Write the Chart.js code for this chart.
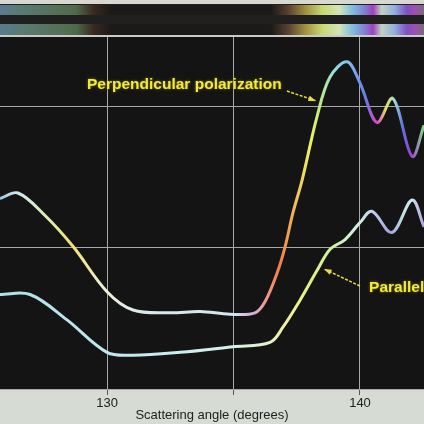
<!DOCTYPE html>
<html>
<head>
<meta charset="utf-8">
<script src="https://cdn.jsdelivr.net/npm/chart.js@4/dist/chart.umd.min.js"></script>
<style>
  html, body { margin: 0; padding: 0; background: #d6dbd4; }
  #wrap { width: 424px; height: 424px; }
</style>
</head>
<body>
<div id="wrap"><canvas id="grafico" width="424" height="424"></canvas></div>
<script>
// angles (degrees) and intensities
var angulosPerp = [125.77, 126.48, 127.55, 128.66, 130, 131.03, 132.49, 133.68, 134.86, 135.85, 136.25, 136.72, 137.04, 137.35, 137.71, 138.30, 138.81, 139.49, 140, 140.67, 141.30, 142.06, 142.53];
var valoresPerp = [1.35, 1.39, 1.23, 1.01, 0.69, 0.56, 0.54, 0.55, 0.53, 0.54, 0.62, 0.82, 1.01, 1.25, 1.48, 1.93, 2.21, 2.32, 2.17, 1.89, 2.06, 1.65, 1.87];

var angulosPara = [125.77, 126.96, 128.42, 130, 131.03, 132.89, 134.98, 136.44, 136.96, 137.63, 138.30, 138.81, 139.41, 140, 140.47, 141.26, 142.06, 142.53];
var valoresPara = [0.67, 0.67, 0.49, 0.26, 0.24, 0.26, 0.30, 0.33, 0.44, 0.63, 0.84, 0.99, 1.06, 1.18, 1.26, 1.11, 1.34, 1.15];

var ticksX = [130, 135, 140];
var etiquetasX = ['130', '', '140'];
var tituloX = 'Scattering angle (degrees)';
var nombrePerp = 'Perpendicular polarization';
var nombrePara = 'Parallel polarization';

// colour stops along the width (fraction, colour)
var coloresPerp = [[0, '#9cc8dc'], [0.04, '#cfe9ef'], [0.12, '#dcefa8'], [0.17, '#f2e070'], [0.24, '#eef0d4'], [0.35, '#d4eaf0'], [0.55, '#d4e6f0'], [0.59, '#d0b4e0'], [0.63, '#f09888'], [0.66, '#f08048'], [0.70, '#f0c060'], [0.73, '#f0f060'], [0.76, '#b4e890'], [0.79, '#90e0e0'], [0.83, '#80b0f0'], [0.86, '#6080e0'], [0.89, '#e040d0'], [0.91, '#e0e060'], [0.93, '#a0e0d0'], [0.95, '#6070e0'], [0.97, '#a040d0'], [1, '#80e080']];
var coloresPara = [[0, '#b0e0e8'], [0.5, '#d0f0f0'], [0.62, '#e0f0d0'], [0.68, '#f0f0a0'], [0.72, '#e8f080'], [0.78, '#d0f0a0'], [0.84, '#d0f0e0'], [0.88, '#c0d0f0'], [0.92, '#a0a0e0'], [0.95, '#c0e0e0'], [0.97, '#d0e8f0'], [1, '#b0a0e0']];
var coloresBarra = [[0, '#5a7a90'], [0.06, '#5a7a70'], [0.18, '#506a48'], [0.22, '#3a2a20'], [0.26, '#1c1a18'], [0.64, '#1c1a18'], [0.68, '#5a4030'], [0.72, '#a09040'], [0.76, '#c8d870'], [0.80, '#d4e4b8'], [0.83, '#80c0e0'], [0.86, '#8080d0'], [0.88, '#a040c0'], [0.90, '#c0d4c0'], [0.93, '#90b0e0'], [0.96, '#8050c0'], [0.98, '#a050b0'], [1, '#707070']];

function degradado(chart, paradas) {
    var a = chart.chartArea;
    if (!a) return '#ffffff';
    var g = chart.ctx.createLinearGradient(a.left, 0, a.right, 0);
    for (var i = 0; i < paradas.length; i++) g.addColorStop(paradas[i][0], paradas[i][1]);
    return g;
}

function puntos(xs, ys) {
    var r = [];
    for (var i = 0; i < xs.length; i++) r.push({x: xs[i], y: ys[i]});
    return r;
}

// backgrounds, colour bars and labels
var fondo = {
    id: 'fondo',
    beforeDraw: function(chart) {
        var ctx = chart.ctx;
        var a = chart.chartArea;
        ctx.save();
        ctx.fillStyle = '#d6dbd4';
        ctx.fillRect(0, 0, chart.width, chart.height);
        ctx.fillStyle = '#202020';
        ctx.fillRect(0, 0, chart.width, a.top);
        ctx.fillStyle = '#d8d8d0';
        ctx.fillRect(0, 0, chart.width, 4);
        var g = ctx.createLinearGradient(0, 0, chart.width, 0);
        for (var i = 0; i < coloresBarra.length; i++) g.addColorStop(coloresBarra[i][0], coloresBarra[i][1]);
        ctx.fillStyle = g;
        ctx.fillRect(0, 5, chart.width, 10);
        ctx.fillRect(0, 24, chart.width, 11);
        ctx.fillStyle = '#c8ccc4';
        ctx.fillRect(0, a.top - 2, chart.width, 2);
        ctx.fillStyle = '#141414';
        ctx.fillRect(a.left, a.top, a.right - a.left, a.bottom - a.top);
        ctx.restore();
    },
    afterDatasetsDraw: function(chart) {
        var ctx = chart.ctx;
        var sx = chart.scales.x, sy = chart.scales.y;
        function flecha(x1, y1, x2, y2) {
            var p1x = sx.getPixelForValue(x1), p1y = sy.getPixelForValue(y1);
            var p2x = sx.getPixelForValue(x2), p2y = sy.getPixelForValue(y2);
            ctx.strokeStyle = '#e8dc40';
            ctx.fillStyle = '#e8dc40';
            ctx.lineWidth = 1.5;
            ctx.setLineDash([3, 1.5]);
            ctx.beginPath();
            ctx.moveTo(p1x, p1y);
            ctx.lineTo(p2x, p2y);
            ctx.stroke();
            ctx.setLineDash([]);
            var ang = Math.atan2(p2y - p1y, p2x - p1x);
            ctx.beginPath();
            ctx.moveTo(p2x, p2y);
            ctx.lineTo(p2x - 8 * Math.cos(ang - 0.35), p2y - 8 * Math.sin(ang - 0.35));
            ctx.lineTo(p2x - 8 * Math.cos(ang + 0.35), p2y - 8 * Math.sin(ang + 0.35));
            ctx.closePath();
            ctx.fill();
        }
        function texto(t, x, y) {
            ctx.font = 'bold 15.5px "Liberation Sans", Arial, sans-serif';
            ctx.textBaseline = 'middle';
            ctx.textAlign = 'left';
            ctx.shadowColor = 'rgba(140,130,0,0.9)';
            ctx.shadowBlur = 3;
            ctx.fillStyle = '#f2ea3c';
            ctx.fillText(t, sx.getPixelForValue(x), sy.getPixelForValue(y));
            ctx.shadowBlur = 0;
            ctx.shadowColor = 'transparent';
        }
        ctx.save();
        texto(nombrePerp, 129.21, 2.156);
        flecha(137.11, 2.113, 138.26, 2.043);
        texto(nombrePara, 140.36, 0.716);
        flecha(140.0, 0.73, 138.58, 0.851);
        ctx.restore();
    }
};

var grafico = new Chart(document.getElementById('grafico'), {
    type: 'line',
    data: {
        datasets: [{
            label: nombrePerp,
            data: puntos(angulosPerp, valoresPerp),
            borderColor: function(c) { return degradado(c.chart, coloresPerp); },
            borderWidth: 3,
            pointRadius: 0,
            tension: 0.35,
            fill: false
        }, {
            label: nombrePara,
            data: puntos(angulosPara, valoresPara),
            borderColor: function(c) { return degradado(c.chart, coloresPara); },
            borderWidth: 3,
            pointRadius: 0,
            tension: 0.35,
            fill: false
        }]
    },
    options: {
        responsive: false,
        animation: false,
        layout: { padding: { top: 37, left: 0, right: 0, bottom: 0 } },
        plugins: { legend: { display: false }, tooltip: { enabled: false } },
        scales: {
            x: {
                type: 'linear',
                min: 125.77,
                max: 142.53,
                afterFit: function(ax) { ax.height = 35; },
                afterBuildTicks: function(ax) {
                    ax.ticks = ticksX.map(function(v) { return {value: v}; });
                },
                ticks: {
                    autoSkip: false,
                    maxRotation: 0,
                    padding: 1,
                    color: '#222222',
                    font: { family: 'Arial, "Liberation Sans", sans-serif', size: 13 },
                    callback: function(v) {
                        var i = ticksX.indexOf(v);
                        return i >= 0 ? etiquetasX[i] : '';
                    }
                },
                grid: { color: '#a8a8a8', lineWidth: 1, tickLength: 6, tickColor: '#555555', drawTicks: true },
                border: { display: false },
                title: {
                    display: true,
                    text: tituloX,
                    color: '#222222',
                    font: { family: 'Arial, "Liberation Sans", sans-serif', size: 13 },
                    padding: { top: 0, bottom: 1 }
                }
            },
            y: {
                min: 0,
                max: 2.496,
                afterFit: function(ax) { ax.width = 0; },
                ticks: { display: false, stepSize: 1, includeBounds: false },
                grid: { color: '#a8a8a8', lineWidth: 1, drawTicks: false },
                border: { display: false }
            }
        }
    },
    plugins: [fondo]
});
</script>
</body>
</html>
